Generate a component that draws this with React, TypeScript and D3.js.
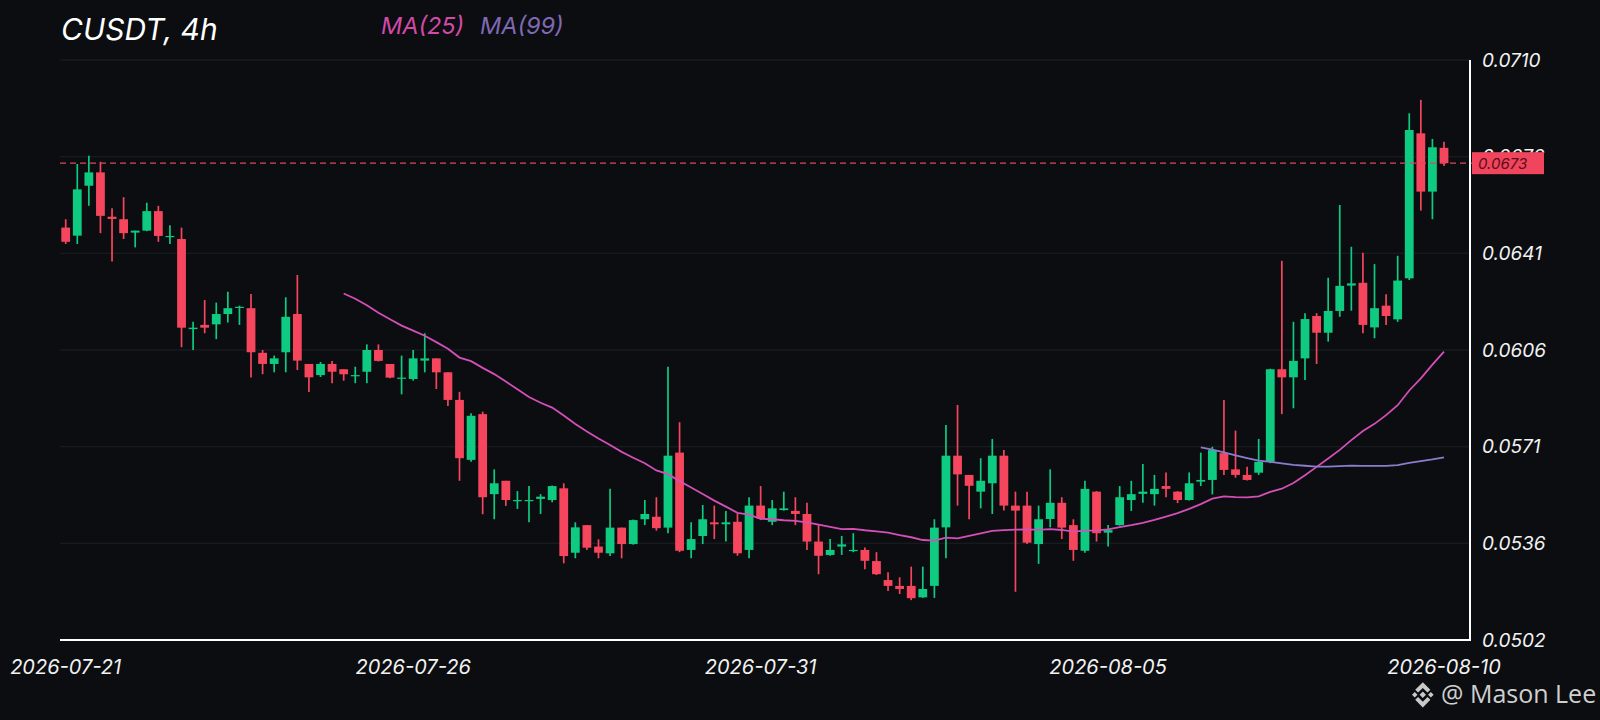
import React from "react";
import * as d3 from "d3";

const symbol = "CUSDT, 4h";
const startTime = Date.UTC(2026, 6, 21, 0, 0, 0);
const intervalHours = 4;

const opens = [
  0.06499, 0.06470, 0.06649, 0.06697, 0.06538, 0.06529, 0.06481, 0.06488, 0.06558, 0.06466,
  0.06458, 0.06135, 0.06150, 0.06152, 0.06189, 0.06212, 0.06210, 0.06050, 0.06010, 0.06052,
  0.06189, 0.06010, 0.05970, 0.06010, 0.05991, 0.05968, 0.05982, 0.06060, 0.06010, 0.05957,
  0.05956, 0.06022, 0.06030, 0.05980, 0.05881, 0.05666, 0.05830, 0.05543, 0.05591, 0.05518,
  0.05518, 0.05526, 0.05522, 0.05564, 0.05333, 0.05432, 0.05355, 0.05331, 0.05423, 0.05364,
  0.05453, 0.05462, 0.05423, 0.05692, 0.05343, 0.05393, 0.05442, 0.05435, 0.05444, 0.05343,
  0.05502, 0.05444, 0.05486, 0.05483, 0.05472, 0.05373, 0.05325, 0.05355, 0.05339, 0.05343,
  0.05303, 0.05235, 0.05214, 0.05214, 0.05173, 0.05214, 0.05424, 0.05681, 0.05612, 0.05552,
  0.05582, 0.05681, 0.05502, 0.05502, 0.05364, 0.05454, 0.05512, 0.05432, 0.05340, 0.05552,
  0.05405, 0.05432, 0.05522, 0.05544, 0.05543, 0.05572, 0.05552, 0.05522, 0.05588, 0.05594,
  0.05690, 0.05632, 0.05612, 0.05620, 0.05659, 0.05991, 0.05962, 0.06030, 0.06182, 0.06122,
  0.06200, 0.06291, 0.06301, 0.06141, 0.06219, 0.06170, 0.06317, 0.06837, 0.06628, 0.06785,
];

const closes = [
  0.06448, 0.06636, 0.06697, 0.06541, 0.06530, 0.06479, 0.06488, 0.06558, 0.06469, 0.06469,
  0.06140, 0.06140, 0.06140, 0.06189, 0.06210, 0.06215, 0.06052, 0.06010, 0.06030, 0.06179,
  0.06022, 0.05962, 0.06010, 0.05982, 0.05973, 0.05970, 0.06060, 0.06021, 0.05961, 0.05961,
  0.06030, 0.06030, 0.05980, 0.05881, 0.05672, 0.05824, 0.05532, 0.05582, 0.05522, 0.05522,
  0.05522, 0.05534, 0.05572, 0.05321, 0.05424, 0.05351, 0.05333, 0.05423, 0.05364, 0.05450,
  0.05472, 0.05421, 0.05681, 0.05340, 0.05382, 0.05453, 0.05435, 0.05442, 0.05331, 0.05502,
  0.05456, 0.05492, 0.05492, 0.05472, 0.05373, 0.05322, 0.05343, 0.05363, 0.05343, 0.05304,
  0.05256, 0.05214, 0.05203, 0.05170, 0.05203, 0.05423, 0.05681, 0.05614, 0.05573, 0.05591,
  0.05681, 0.05502, 0.05484, 0.05369, 0.05453, 0.05512, 0.05423, 0.05343, 0.05562, 0.05403,
  0.05414, 0.05532, 0.05543, 0.05552, 0.05562, 0.05562, 0.05522, 0.05582, 0.05594, 0.05701,
  0.05630, 0.05612, 0.05594, 0.05659, 0.05991, 0.05962, 0.06021, 0.06171, 0.06122, 0.06200,
  0.06290, 0.06299, 0.06150, 0.06210, 0.06182, 0.06309, 0.06849, 0.06628, 0.06787, 0.06730,
];

const highs = [
  0.06529, 0.06727, 0.06757, 0.06735, 0.06568, 0.06608, 0.06488, 0.06588, 0.06577, 0.06507,
  0.06499, 0.06161, 0.06239, 0.06230, 0.06269, 0.06219, 0.06261, 0.06060, 0.06040, 0.06249,
  0.06329, 0.06010, 0.06017, 0.06021, 0.05991, 0.06000, 0.06080, 0.06080, 0.06010, 0.06040,
  0.06060, 0.06120, 0.06030, 0.05980, 0.05910, 0.05833, 0.05839, 0.05632, 0.05591, 0.05554,
  0.05572, 0.05543, 0.05574, 0.05582, 0.05442, 0.05432, 0.05381, 0.05562, 0.05423, 0.05452,
  0.05522, 0.05532, 0.06000, 0.05801, 0.05442, 0.05504, 0.05502, 0.05483, 0.05474, 0.05532,
  0.05572, 0.05522, 0.05552, 0.05532, 0.05512, 0.05432, 0.05382, 0.05393, 0.05403, 0.05352,
  0.05335, 0.05263, 0.05245, 0.05283, 0.05283, 0.05453, 0.05791, 0.05863, 0.05612, 0.05672,
  0.05741, 0.05701, 0.05552, 0.05552, 0.05502, 0.05632, 0.05532, 0.05453, 0.05591, 0.05554,
  0.05432, 0.05572, 0.05591, 0.05651, 0.05612, 0.05621, 0.05554, 0.05621, 0.05692, 0.05713,
  0.05881, 0.05771, 0.05641, 0.05741, 0.05993, 0.06380, 0.06161, 0.06192, 0.06192, 0.06319,
  0.06580, 0.06430, 0.06409, 0.06368, 0.06260, 0.06398, 0.06909, 0.06957, 0.06817, 0.06807,
];

const lows = [
  0.06440, 0.06440, 0.06577, 0.06479, 0.06377, 0.06458, 0.06428, 0.06486, 0.06448, 0.06440,
  0.06070, 0.06060, 0.06120, 0.06099, 0.06159, 0.06150, 0.05961, 0.05973, 0.05980, 0.05980,
  0.05988, 0.05909, 0.05963, 0.05941, 0.05950, 0.05941, 0.05941, 0.06019, 0.05959, 0.05901,
  0.05950, 0.05980, 0.05920, 0.05859, 0.05591, 0.05659, 0.05471, 0.05453, 0.05501, 0.05490,
  0.05442, 0.05472, 0.05514, 0.05295, 0.05313, 0.05343, 0.05313, 0.05321, 0.05313, 0.05362,
  0.05432, 0.05412, 0.05403, 0.05335, 0.05313, 0.05364, 0.05382, 0.05373, 0.05322, 0.05313,
  0.05450, 0.05432, 0.05484, 0.05432, 0.05343, 0.05256, 0.05322, 0.05325, 0.05335, 0.05274,
  0.05253, 0.05196, 0.05185, 0.05163, 0.05171, 0.05171, 0.05313, 0.05502, 0.05453, 0.05492,
  0.05472, 0.05484, 0.05193, 0.05364, 0.05293, 0.05424, 0.05382, 0.05304, 0.05333, 0.05373,
  0.05355, 0.05430, 0.05483, 0.05512, 0.05502, 0.05532, 0.05511, 0.05520, 0.05572, 0.05542,
  0.05612, 0.05602, 0.05592, 0.05612, 0.05654, 0.05830, 0.05851, 0.05952, 0.06010, 0.06090,
  0.06179, 0.06201, 0.06120, 0.06102, 0.06150, 0.06161, 0.06311, 0.06560, 0.06529, 0.06720,
];

const yDomain = [0.0502, 0.071];
const yTickValues = [0.0502, 0.05367, 0.05713, 0.0606, 0.06407, 0.06753, 0.071];
const yTickLabels = ["0.0502", "0.0536", "0.0571", "0.0606", "0.0641", "0.0676", "0.0710"];
const dateTickLabels = ["2026-07-21", "2026-07-26", "2026-07-31", "2026-08-05", "2026-08-10"];
const maPeriods = [25, 99];
const maColors = ["#d44fb8", "#8d7bcc"];
const maLabelColors = ["#d24aa8", "#7f69b5"];
const watermark = "@ Mason Lee";

const W = 1600;
const H = 720;
const left = 60;
const right = 1470;
const top = 60;
const bottom = 640;
const UP = "#0ecb81";
const DOWN = "#f6465d";
const FONT = "Inter, 'Noto Sans', sans-serif";

function movingAverage(values: number[], n: number) {
  const out: { i: number; v: number }[] = [];
  for (let i = n - 1; i < values.length; i++) {
    out.push({ i, v: d3.mean(values.slice(i - n + 1, i + 1)) as number });
  }
  return out;
}

export default function App() {
  const times = closes.map((_, i) => new Date(startTime + i * intervalHours * 3600 * 1000));
  const x = d3
    .scaleUtc()
    .domain([times[0], times[times.length - 1]])
    .range([65.7, 1444]);
  const y = d3.scaleLinear().domain(yDomain).range([bottom, top]);
  const bodyW = 8.8;

  const lineGen = d3
    .line<{ i: number; v: number }>()
    .x((d) => x(times[d.i]))
    .y((d) => y(d.v))
    .curve(d3.curveLinear);

  const last = closes[closes.length - 1];
  const lastY = y(last);
  const xMax = x(times[times.length - 1]);

  const logoPaths = [
    "M12 1 L18.6 7.6 L16.1 10.1 L12 6 L7.9 10.1 L5.4 7.6 Z",
    "M12 23 L18.6 16.4 L16.1 13.9 L12 18 L7.9 13.9 L5.4 16.4 Z",
    "M12 9.2 L14.8 12 L12 14.8 L9.2 12 Z",
    "M2.6 12 L5 9.6 L7.4 12 L5 14.4 Z",
    "M21.4 12 L19 9.6 L16.6 12 L19 14.4 Z",
  ];

  return (
    <div style={{ position: "fixed", left: 0, top: 0, width: W, height: H }}>
      <svg width={W} height={H} style={{ display: "block", background: "#0b0d10" }}>
        <rect x={0} y={0} width={W} height={H} fill="#0b0d10" />
        {yTickValues.map((v, k) => (
          <line key={"g" + k} x1={left} x2={right} y1={y(v)} y2={y(v)} stroke="#1d2025" strokeWidth={1} />
        ))}
        {yTickValues.map((v, k) => (
          <text
            key={"yl" + k}
            x={1482}
            y={y(v)}
            dominantBaseline="central"
            fill="#f2f2f2"
            fontSize={19}
            fontStyle="italic"
            fontFamily={FONT}
          >
            {yTickLabels[k]}
          </text>
        ))}
        {dateTickLabels.map((s, k) => {
          const t = new Date(s + "T00:00:00Z");
          const px = Math.min(x(t), xMax);
          return (
            <text
              key={"d" + k}
              x={px}
              y={674}
              textAnchor="middle"
              fill="#f2f2f2"
              fontSize={20}
              fontStyle="italic"
              fontFamily={FONT}
            >
              {s}
            </text>
          );
        })}
        {closes.map((c, i) => {
          const o = opens[i];
          const up = c >= o;
          const col = up ? UP : DOWN;
          const cx = x(times[i]);
          const yTop = y(Math.max(o, c));
          const yBot = y(Math.min(o, c));
          const h = Math.max(1.2, yBot - yTop);
          return (
            <g key={"c" + i}>
              <line x1={cx} x2={cx} y1={y(highs[i])} y2={y(lows[i])} stroke={col} strokeWidth={1.7} />
              <rect x={cx - bodyW / 2} y={yTop} width={bodyW} height={h} fill={col} />
            </g>
          );
        })}
        {maPeriods.map((n, k) => (
          <path
            key={"ma" + n}
            d={lineGen(movingAverage(closes, n)) || ""}
            fill="none"
            stroke={maColors[k]}
            strokeWidth={1.8}
          />
        ))}
        <line
          x1={left}
          x2={1472}
          y1={lastY}
          y2={lastY}
          stroke="#d9485b"
          strokeWidth={1.3}
          strokeDasharray="6 4"
        />
        <rect x={1472} y={lastY - 11} width={72} height={22} fill="#f0455c" />
        <text
          x={1478}
          y={lastY + 0.5}
          dominantBaseline="central"
          fill="#5c0c18"
          fontSize={15}
          fontStyle="italic"
          fontFamily={FONT}
        >
          {last.toFixed(4)}
        </text>
        <line x1={left} x2={right + 1} y1={bottom} y2={bottom} stroke="#ffffff" strokeWidth={2} />
        <line x1={right} x2={right} y1={top} y2={bottom} stroke="#ffffff" strokeWidth={2} />
        <text x={61} y={40} fill="#ffffff" fontSize={30} fontStyle="italic" fontFamily={FONT}>
          {symbol}
        </text>
        {maPeriods.map((n, k) => (
          <text
            key={"lg" + n}
            x={k === 0 ? 381 : 480}
            y={34}
            fill={maLabelColors[k]}
            fontSize={23.5}
            fontStyle="italic"
            fontFamily={FONT}
          >
            {`MA(${n})`}
          </text>
        ))}
        <g transform="translate(1409,681) scale(1.15)" fill="#c9c9c9">
          {logoPaths.map((p, k) => (
            <path key={"lp" + k} d={p} />
          ))}
        </g>
        <text x={1441} y={703} fill="#cfcfcf" fontSize={25} fontFamily="'Open Sans', 'Noto Sans', sans-serif">
          {watermark}
        </text>
      </svg>
    </div>
  );
}
